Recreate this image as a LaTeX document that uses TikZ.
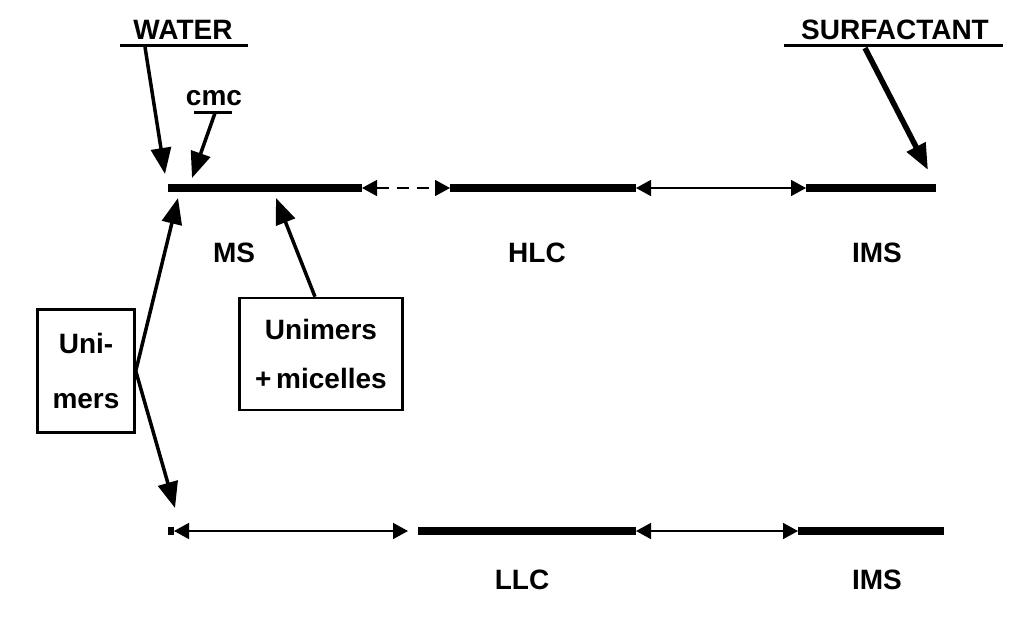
\documentclass[tikz,border=0pt]{standalone}
\usepackage{fontspec}
\setmainfont{Liberation Sans}
\usetikzlibrary{arrows.meta}
\tikzset{
  lbl/.style={font=\fontsize{28}{33}\selectfont\bfseries, inner sep=1pt},
  phase/.style={line width=8pt},
  thin/.style={line width=1.5pt, {Triangle[length=15pt,width=16pt]}-{Triangle[length=15pt,width=16pt]}},
  ptr/.style={line width=3.5pt, -{Triangle[length=26pt,width=20pt]}},
  box/.style={draw, line width=2.5pt, align=center, font=\fontsize{28}{33}\selectfont\bfseries},
  uline/.style={line width=3pt}
}
\begin{document}
\begin{tikzpicture}[x=1pt,y=-1pt]
    \useasboundingbox (0,0) rectangle (1016,619);

    % Labels
    \node[lbl] (water) at (183,30) {WATER};
    \node[lbl] (surf) at (895,30) {SURFACTANT};
    \node[lbl] (cmc) at (214,98) {cmc};
    \draw[uline] (120,45) -- (248,45);
    \draw[uline] (784,45) -- (1003,45);
    \draw[uline] (194,112) -- (232,112);
    \node[lbl] (ms) at (234,253) {MS};
    \node[lbl] (hlc) at (537,253) {HLC};
    \node[lbl] (ims1) at (877,253) {IMS};
    \node[lbl] (llc) at (522,580) {LLC};
    \node[lbl] (ims2) at (877,580) {IMS};

    % Top line
    \coordinate (t1) at (168,188);
    \coordinate (t2) at (362,188);
    \coordinate (t3) at (450,188);
    \coordinate (t4) at (636,188);
    \coordinate (t5) at (806,188);
    \coordinate (t6) at (936,188);
    \draw[phase] (t1) -- (t2);
    \draw[phase] (t3) -- (t4);
    \draw[phase] (t5) -- (t6);
    \draw[thin, dashed, dash pattern=on 12pt off 8pt] (t2) -- (t3);
    \draw[thin] (t4) -- (t5);

    % Bottom line
    \coordinate (b0) at (168,531);
    \coordinate (b1) at (174,531);
    \coordinate (b2) at (408,531);
    \coordinate (b3) at (418,531);
    \coordinate (b4) at (636,531);
    \coordinate (b5) at (798,531);
    \coordinate (b6) at (944,531);
    \draw[phase] (b0) -- (b1);
    \draw[thin] (b1) -- (b2);
    \draw[phase] (b3) -- (b4);
    \draw[thin] (b4) -- (b5);
    \draw[phase] (b5) -- (b6);

    % Boxes
    \node[box, minimum width=97pt, minimum height=123pt] (uni) at (86,371) {Uni-\\[22pt]mers};
    \node[box, minimum width=163pt, minimum height=112pt] (mic) at (321,354) {Unimers\\[16pt]+\,micelles};

    % Pointers
    \coordinate (wend) at (165,174);
    \coordinate (cend) at (192,178);
    \coordinate (send) at (928,170);
    \draw[ptr] (145,47) -- (wend);
    \draw[ptr] (215,113) -- (cend);
    \draw[ptr, line width=5.5pt] (865,48) -- (send);
    \draw[ptr] (uni.east) -- (178,198);
    \draw[ptr] (uni.east) -- (175,508);
    \draw[ptr] (mic.north) ++(-6,0) -- (276,198);

\end{tikzpicture}
\end{document}
